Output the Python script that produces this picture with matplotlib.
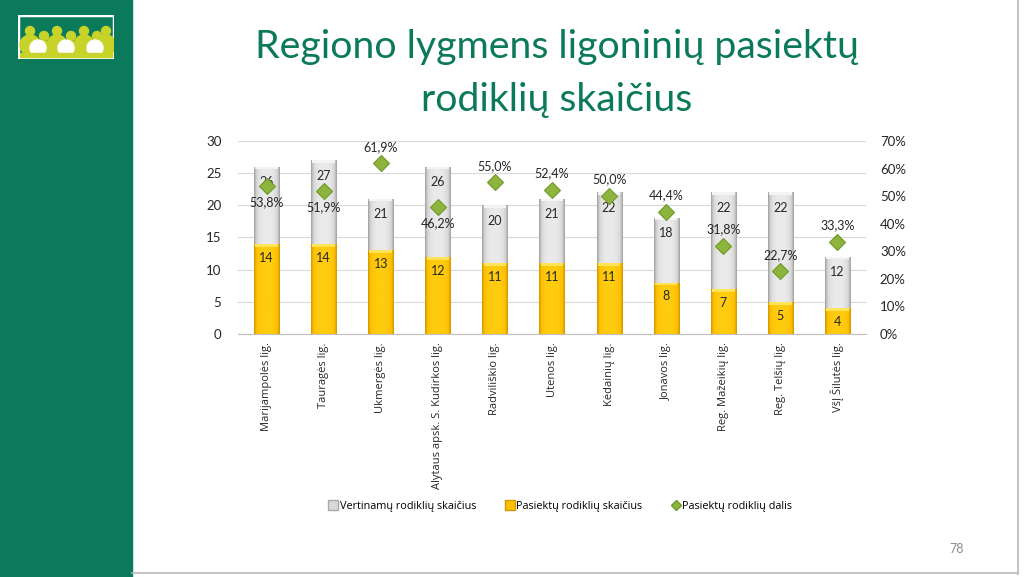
import numpy as np
import matplotlib.pyplot as plt
from matplotlib.patches import Rectangle, Circle, Ellipse
from matplotlib.lines import Line2D
from matplotlib.colors import LinearSegmentedColormap

# duomenys
ligonines = ["Marijampolės lig.", "Tauragės lig.", "Ukmergės lig.",
             "Alytaus apsk. S. Kudirkos lig.", "Radviliškio lig.", "Utenos lig.",
             "Kėdainių lig.", "Jonavos lig.", "Reg. Mažeikių lig.",
             "Reg. Telšių lig.", "VšĮ Šilutės lig."]
vertinami = [26, 27, 21, 26, 20, 21, 22, 18, 22, 22, 12]
pasiekti = [14, 14, 13, 12, 11, 11, 11, 8, 7, 5, 4]
dalis = [53.8, 51.9, 61.9, 46.2, 55.0, 52.4, 50.0, 44.4, 31.8, 22.7, 33.3]
# etiketė virš (1) ar po (-1) tašku
dalis_poz = [-1, -1, 1, -1, 1, 1, 1, 1, 1, 1, 1]

zalia = "#0B7A5A"
plt.rcParams['font.family'] = ['Lato', 'DejaVu Sans']

fig = plt.figure(figsize=(10.24, 5.77), dpi=100)
fig.patch.set_facecolor("white")

# kairė žalia juosta
fig.patches.append(Rectangle((0, 0), 132 / 1024, 1, transform=fig.transFigure,
                             color=zalia, zorder=0))
# rėmelio linijos
fig.add_artist(Line2D([1018 / 1024, 1018 / 1024], [0.005, 1], transform=fig.transFigure,
                      color="#B8B8B8", lw=1.2))
fig.add_artist(Line2D([132 / 1024, 1018 / 1024], [4 / 577, 4 / 577], transform=fig.transFigure,
                      color="#B8B8B8", lw=1.2))

# logotipas
lax = fig.add_axes([18 / 1024, 1 - 59 / 577, 96 / 1024, 44 / 577])
lax.set_zorder(5)
lax.set_xlim(0, 96)
lax.set_ylim(0, 44)
lax.axis("off")
lax.add_patch(Rectangle((0, 0), 96, 44, facecolor=zalia, edgecolor="white", lw=2.5))
for cx in [12, 39, 66, 88]:
    lax.add_patch(Circle((cx, 28), 4.5, color="#C8D32A"))
    lax.add_patch(Ellipse((cx, 14), 20, 20, color="#C8D32A"))
for cx in [26, 53, 79]:
    lax.add_patch(Circle((cx, 23), 4.5, color="#C8D32A"))
    lax.add_patch(Ellipse((cx, 10), 16, 16, color="#C8D32A"))
for cx in [20, 48, 77]:
    lax.add_patch(Circle((cx, 11), 8, color="white", zorder=3))
lax.add_patch(Rectangle((2, 2), 92, 4, color="#C8D32A", zorder=4))

# pavadinimas
fig.text(557 / 1024, 1 - 47 / 577, "Regiono lygmens ligoninių pasiektų",
         ha="center", va="center", fontsize=28.3, color=zalia)
fig.text(557 / 1024, 1 - 100 / 577, "rodiklių skaičius",
         ha="center", va="center", fontsize=28.3, color=zalia)
fig.text(957 / 1024, 1 - 549 / 577, "78", ha="center", va="center",
         fontsize=9, color="#8C8C8C")

ax = fig.add_axes([238 / 1024, 1 - 334 / 577, 628 / 1024, 193 / 577])
x = np.arange(len(ligonines))
w = 0.44

# cilindro šešėliavimas
grad = np.abs(np.linspace(-1, 1, 64))
grad = (1 - grad ** 3)[None, :]


def bar_shade(bars, cmap_cols):
    cm = LinearSegmentedColormap.from_list("c", cmap_cols)
    for b in bars:
        x0, y0 = b.get_x(), b.get_y()
        im = ax.imshow(grad, cmap=cm, aspect="auto", extent=[x0, x0 + b.get_width(), y0, y0 + b.get_height()],
                       zorder=b.get_zorder() + 0.1, vmin=0, vmax=1)
        im.set_clip_path(b)


b1 = ax.bar(x, vertinami, w, color="#DADADA", zorder=2)
bar_shade(b1, ["#A0A0A0", "#D6D6D6", "#EAEAEA"])
b2 = ax.bar(x, pasiekti, w, color="#FFC000", zorder=3)
bar_shade(b2, ["#D09800", "#FFC000", "#FFCC10"])
# šviesesni viršeliai
ax.bar(x, [0.35] * len(x), w * 0.9, bottom=np.array(vertinami) - 0.35, color="#F4F4F4", zorder=2.5)
ax.bar(x, [0.45] * len(x), w * 0.9, bottom=np.array(pasiekti) - 0.45, color="#FFE45A", zorder=3.5)

for i in range(len(x)):
    ax.annotate(str(vertinami[i]), (x[i], vertinami[i]), xytext=(0, -11), textcoords="offset points",
                ha="center", va="center", fontsize=9, color="#262626", zorder=6)
    ax.annotate(str(pasiekti[i]), (x[i], pasiekti[i]), xytext=(0, -10), textcoords="offset points",
                ha="center", va="center", fontsize=9, color="#262626", zorder=6)

ax.set_xlim(-0.5, len(x) - 0.5)
ax.set_ylim(0, 30)
ax.set_yticks(range(0, 31, 5))
ax.grid(axis="y", color="#D9D9D9", lw=0.8, zorder=0)
ax.set_axisbelow(True)
for s in ["top", "right", "left"]:
    ax.spines[s].set_visible(False)
ax.spines["bottom"].set_color("#BFBFBF")
ax.set_xticks(x)
ax.set_xticklabels(ligonines, rotation=90, fontsize=8, family=["Open Sans", "DejaVu Sans"])
ax.tick_params(axis="y", length=0, colors="#262626", labelsize=9.5, pad=12)
ax.tick_params(axis="x", length=0, colors="#262626", pad=6)

ax2 = ax.twinx()
ax2.set_ylim(0, 70)
ax2.set_yticks(range(0, 71, 10))
ax2.set_yticklabels([f"{v}%" for v in range(0, 71, 10)])
ax2.tick_params(length=0, colors="#262626", labelsize=9.5, pad=10)
for s in ax2.spines.values():
    s.set_visible(False)
ax2.plot(x, dalis, ls="none", marker="D", ms=8.5, mfc="#8DB43C", mec="#6E9A2A", mew=0.8,
         zorder=7)
for i in range(len(x)):
    ax2.annotate(f"{dalis[i]:.1f}".replace(".", ",") + "%", (x[i], dalis[i]),
                 xytext=(0, 12 * dalis_poz[i]), textcoords="offset points",
                 ha="center", va="center", fontsize=9, color="#262626", zorder=8)
ax2.set_zorder(ax.get_zorder() + 1)

handles = [Line2D([], [], ls="none", marker="s", ms=6.5, mfc="#D9D9D9", mec="#A8A8A8"),
           Line2D([], [], ls="none", marker="s", ms=6.5, mfc="#FFC000", mec="#D09800"),
           Line2D([], [], ls="none", marker="D", ms=5.5, mfc="#8DB43C", mec="#6E9A2A")]
fig.legend(handles, ["Vertinamų rodiklių skaičius", "Pasiektų rodiklių skaičius", "Pasiektų rodiklių dalis"],
           loc="center", bbox_to_anchor=(560 / 1024, 1 - 506 / 577), ncol=3, frameon=False,
           handletextpad=0.1, columnspacing=2.6, handlelength=1,
           prop={"family": ["Open Sans", "DejaVu Sans"], "size": 7.8})

fig.savefig("out.png", dpi=100)
